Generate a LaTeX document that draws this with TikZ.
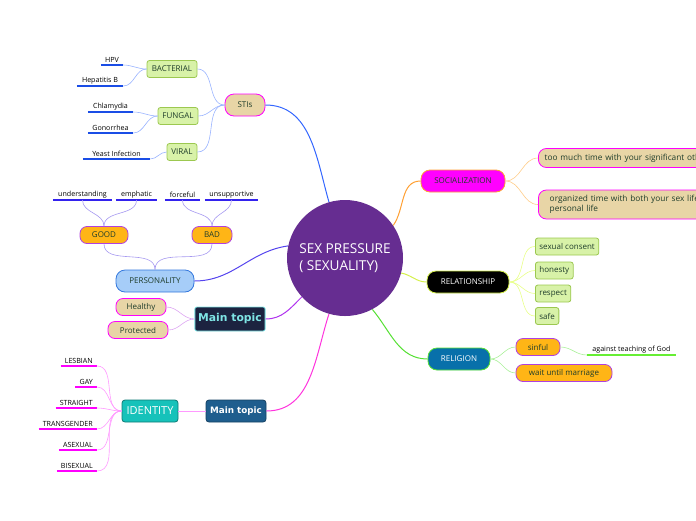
\documentclass[tikz,border=0pt]{standalone}
\usepackage{fontspec}
\setmainfont{Open Sans}
\newfontfamily\topicfont{DejaVu Sans}
\usetikzlibrary{positioning}

\definecolor{hubpurple}{HTML}{662D91}
\definecolor{tanfill}{HTML}{E8D5A6}
\definecolor{leafgreen}{HTML}{D8F2A8}
\definecolor{leafedge}{HTML}{9CC850}
\definecolor{ambfill}{HTML}{FFB516}
\definecolor{ambedge}{HTML}{B040E0}
\definecolor{persfill}{HTML}{A6CDF8}
\definecolor{persedge}{HTML}{3377DD}
\definecolor{navy}{HTML}{1C2340}
\definecolor{aqua}{HTML}{7FE6E6}
\definecolor{steel}{HTML}{1F5E8E}
\definecolor{tealfill}{HTML}{16C2BA}
\definecolor{tealedge}{HTML}{0F7A75}
\definecolor{relblue}{HTML}{0870AA}
\definecolor{limeedge}{HTML}{D4F04A}
\definecolor{txtdark}{HTML}{1F3D2B}
\definecolor{pink}{HTML}{FF00FF}
\definecolor{socorange}{HTML}{FFA033}
\definecolor{socsoft}{HTML}{FFCC88}
\definecolor{stiline}{HTML}{3366FF}
\definecolor{stisoft}{HTML}{99B3FF}
\definecolor{stiul}{HTML}{1A4DE6}
\definecolor{persline}{HTML}{5544EE}
\definecolor{perssoft}{HTML}{A699F0}
\definecolor{persul}{HTML}{3322EE}
\definecolor{topline}{HTML}{B033EE}
\definecolor{topsoft}{HTML}{DDA6F2}
\definecolor{idline}{HTML}{FF33DD}
\definecolor{idsoft}{HTML}{FF99FF}
\definecolor{relsoft}{HTML}{E8FF88}
\definecolor{religline}{HTML}{55E033}
\definecolor{religsoft}{HTML}{AAF099}
\definecolor{godul}{HTML}{66EE33}

\begin{document}
\begin{tikzpicture}[x=1pt, y=-1pt,
  pill/.style={draw, line width=0.8pt, rounded corners=7pt,
               minimum height=17pt, inner xsep=4pt, text=txtdark,
               font=\fontsize{8}{9.5}\selectfont},
  gbox/.style={draw=leafedge, fill=leafgreen, line width=0.8pt,
               rounded corners=2.5pt, minimum height=17pt, inner xsep=4pt,
               text=txtdark, font=\fontsize{8}{9.5}\selectfont},
  widebox/.style={draw=pink, fill=tanfill, line width=0.8pt,
               rounded corners=8pt, anchor=west, text width=200pt,
               align=left, text=txtdark, font=\fontsize{8.3}{10}\selectfont},
  leaf/.style={inner xsep=3pt, inner ysep=2pt, font=\fontsize{7.1}{8}\selectfont},
  main/.style={line width=1pt},
  sub/.style={line width=0.6pt}
]
  \useasboundingbox (0,0) rectangle (696,520);
  \clip (0,0) rectangle (696,520);

  % centre
  \node[circle, fill=hubpurple, minimum size=116pt, text=white, align=left,
        font=\fontsize{13.6}{17}\selectfont] (hub) at (345,258)
        {SEX PRESSURE\\( SEXUALITY)};

  % STIs branch
  \node[pill, fill=tanfill, draw=pink, minimum width=40pt,
        minimum height=22pt, rounded corners=9pt] (stis) at (245,105) {STIs};
  \node[gbox, minimum width=50pt] (bact) at (172,69) {BACTERIAL};
  \node[gbox, minimum width=40pt] (fung) at (178,116) {FUNGAL};
  \node[gbox, minimum width=30pt] (vir) at (182,152) {VIRAL};
  \node[leaf, anchor=south, minimum width=22pt] (hpv) at (112,65) {HPV};
  \node[leaf, anchor=south, minimum width=46pt] (hepb) at (100,86) {Hepatitis B};
  \node[leaf, anchor=south, minimum width=45pt] (chla) at (110.5,112) {Chlamydia};
  \node[leaf, anchor=south, minimum width=45pt] (gono) at (110.5,133) {Gonorrhea};
  \node[leaf, anchor=south, minimum width=67pt] (yeast) at (116.5,159) {Yeast Infection};

  % personality branch
  \node[pill, fill=persfill, draw=persedge, minimum width=78pt,
        minimum height=22pt, rounded corners=9pt] (pers) at (155,281) {PERSONALITY};
  \node[pill, fill=ambfill, draw=ambedge, minimum width=48pt] (good) at (104,235) {GOOD};
  \node[pill, fill=ambfill, draw=ambedge, minimum width=40pt] (bad) at (212,235) {BAD};
  \node[leaf, anchor=south, minimum width=59pt] (und) at (82.5,200) {understanding};
  \node[leaf, anchor=south, minimum width=41pt] (emph) at (136.5,200) {emphatic};
  \node[leaf, anchor=south, minimum width=35pt] (forc) at (182.5,200) {forceful};
  \node[leaf, anchor=south, minimum width=53pt] (unsup) at (231.5,200) {unsupportive};

  % first main topic
  \node[draw=aqua, fill=navy, text=aqua, line width=0.8pt, rounded corners=2pt,
        minimum width=70pt, minimum height=24pt,
        font=\topicfont\bfseries\fontsize{10.8}{12}\selectfont] (topicA) at (230,319) {Main topic};
  \node[pill, fill=tanfill, draw=pink, minimum width=50pt] (hlth) at (141,307) {Healthy};
  \node[pill, fill=tanfill, draw=pink, minimum width=60pt] (prot) at (138,330) {Protected};

  % second main topic
  \node[draw=steel!70!black, fill=steel, text=white, line width=0.8pt,
        rounded corners=3pt, minimum width=60pt, minimum height=22pt,
        font=\topicfont\bfseries\fontsize{8.8}{10}\selectfont] (topicB) at (236,411) {Main topic};
  \node[draw=tealedge, fill=tealfill, text=white, line width=0.8pt,
        rounded corners=3pt, minimum width=56pt, minimum height=22pt,
        font=\fontsize{11}{13}\selectfont] (ident) at (150,411) {IDENTITY};
  \foreach \nm/\txt/\yy in {lesb/LESBIAN/366, gay/GAY/387, strt/STRAIGHT/408,
                             trans/TRANSGENDER/429, asex/ASEXUAL/450, bisx/BISEXUAL/471}{
    \node[leaf, anchor=south east, inner xsep=4pt] (\nm) at (97,\yy) {\txt};
    \draw[pink, line width=1.2pt] (\nm.south west) -- (\nm.south east);
    \draw[sub, idsoft] (ident.west) to[out=180, in=0] (\nm.south east);
  }

  % socialization branch
  \node[pill, fill=pink, draw=socorange, minimum width=84pt,
        minimum height=22pt, rounded corners=9pt] (soc) at (463,181) {SOCIALIZATION};
  \node[widebox, minimum height=19pt] (toomuch) at (538,158)
        {\hspace*{3pt}too much time with your significant other};
  \node[widebox, minimum height=29pt] (orgtime) at (538,204.5)
        {\hspace*{8pt}organized time with both your sex life\\\hspace*{8pt}personal life};

  % relationship branch
  \node[pill, fill=black, draw=limeedge, text=white, minimum width=82pt,
        minimum height=22pt, rounded corners=9pt] (rel) at (468,282) {RELATIONSHIP};
  \node[gbox, anchor=west] (cons) at (535,246.5) {sexual consent};
  \node[gbox, anchor=west] (hone) at (535,270.5) {honesty};
  \node[gbox, anchor=west] (resp) at (535,293.5) {respect};
  \node[gbox, anchor=west] (safe) at (535,316) {safe};

  % religion branch
  \node[pill, fill=relblue, draw=religline, text=white, minimum width=62pt,
        minimum height=22pt, rounded corners=9pt] (relig) at (459,359) {RELIGION};
  \node[pill, fill=ambfill, draw=ambedge, minimum width=44pt] (sinf) at (538,347) {sinful};
  \node[pill, fill=ambfill, draw=ambedge, minimum width=96pt] (wait) at (564,373) {wait until marriage};
  \node[leaf, anchor=south, minimum width=89pt] (god) at (631.5,355) {against teaching of God};

  % underlines
  \foreach \nm in {hpv, hepb, chla, gono, yeast}
    \draw[stiul, line width=1.2pt] (\nm.south west) -- (\nm.south east);
  \foreach \nm in {und, emph, forc, unsup}
    \draw[persul, line width=1.2pt] (\nm.south west) -- (\nm.south east);
  \draw[godul, line width=1.2pt] (god.south west) -- (god.south east);

  % links to the centre
  \draw[main, stiline] (stis.east) to[out=0, in=106] (hub.106);
  \draw[main, persline] (pers.east) to[out=0, in=188] (hub.168);
  \draw[main, topline] (topicA.east) to[out=0, in=225] (hub.222);
  \draw[main, idline] (topicB.east) to[out=0, in=252] (hub.254);
  \draw[main, socorange] (hub.34) to[out=55, in=180] (soc.west);
  \draw[main, limeedge] (hub.-15) to[out=-10, in=180] (rel.west);
  \draw[main, religline] (hub.-62) to[out=-50, in=180] (relig.west);

  % links inside branches
  \draw[sub, stisoft] (stis.west) to[out=180, in=0] (bact.east);
  \draw[sub, stisoft] (stis.west) to[out=180, in=0] (fung.east);
  \draw[sub, stisoft] (stis.west) to[out=180, in=0] (vir.east);
  \draw[sub, stisoft] (bact.west) to[out=180, in=0] (hpv.south east);
  \draw[sub, stisoft] (bact.west) to[out=180, in=0] (hepb.south east);
  \draw[sub, stisoft] (fung.west) to[out=180, in=0] (chla.south east);
  \draw[sub, stisoft] (fung.west) to[out=180, in=0] (gono.south east);
  \draw[sub, stisoft] (vir.west) to[out=180, in=0] (yeast.south east);

  \draw[sub, perssoft] (pers.north) to[out=90, in=-90] (good.south);
  \draw[sub, perssoft] (pers.north) to[out=90, in=-90] (bad.south);
  \draw[sub, perssoft] (good.north) to[out=90, in=-90] (und.south);
  \draw[sub, perssoft] (good.north) to[out=90, in=-90] (emph.south);
  \draw[sub, perssoft] (bad.north) to[out=90, in=-90] (forc.south);
  \draw[sub, perssoft] (bad.north) to[out=90, in=-90] (unsup.south);

  \draw[sub, topsoft] (topicA.west) to[out=180, in=0] (hlth.east);
  \draw[sub, topsoft] (topicA.west) to[out=180, in=0] (prot.east);
  \draw[sub, idsoft] (topicB.west) -- (ident.east);

  \draw[sub, socsoft] (soc.east) to[out=0, in=180] (toomuch.west);
  \draw[sub, socsoft] (soc.east) to[out=0, in=180] (orgtime.west);
  \draw[sub, relsoft] (rel.east) to[out=0, in=180] (cons.west);
  \draw[sub, relsoft] (rel.east) to[out=0, in=180] (hone.west);
  \draw[sub, relsoft] (rel.east) to[out=0, in=180] (resp.west);
  \draw[sub, relsoft] (rel.east) to[out=0, in=180] (safe.west);
  \draw[sub, religsoft] (relig.east) to[out=0, in=180] (sinf.west);
  \draw[sub, religsoft] (relig.east) to[out=0, in=180] (wait.west);
  \draw[sub, religsoft] (sinf.east) to[out=0, in=180] (god.south west);
\end{tikzpicture}
\end{document}
